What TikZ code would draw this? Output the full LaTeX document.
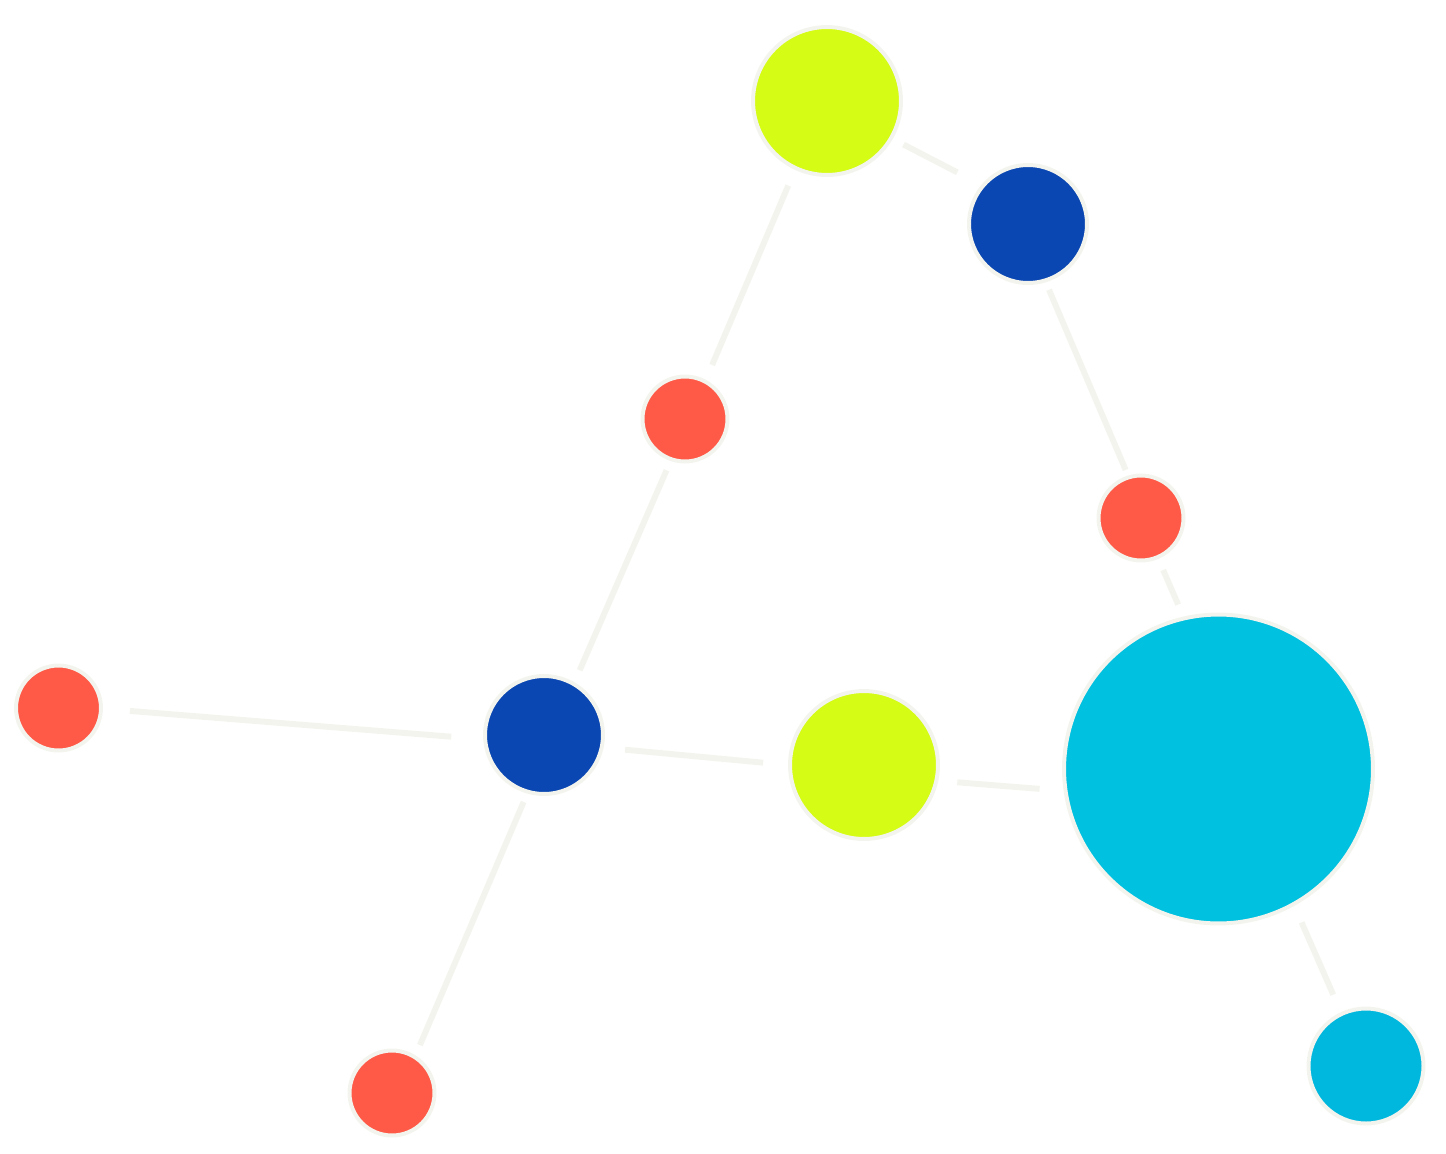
\documentclass[tikz,border=0pt]{standalone}
\usepackage{tikz}
\usepackage[svgnames]{xcolor}

\definecolor{lime}{HTML}{D4FC14}
\definecolor{navy}{HTML}{0A47B2}
\definecolor{coral}{HTML}{FF5A47}
\definecolor{aqua}{HTML}{00C1DF}
\definecolor{aquadark}{HTML}{00B7DE}
\definecolor{mist}{HTML}{F4F4EF}

\begin{document}
\begin{tikzpicture}[
            x=.02cm, y=-.02cm,
            dot/.style={circle, inner sep=0pt, draw=mist, line width=.08cm},
            small/.style={dot, minimum size=1.7cm, fill=coral},
            mid/.style={dot, minimum size=2.36cm, fill=navy},
            big/.style={dot, minimum size=2.96cm, fill=lime},
            link/.style={draw=mist, line width=.12cm},
        ]
            \useasboundingbox (0, 0) rectangle (1446, 1153);

            %% the nodes, placed where the picture has them
            \node[big] (limeTop) at (827, 101) {};
            \node[mid] (navyTop) at (1028, 224) {};
            \node[small] (coralUp) at (685, 419) {};
            \node[small] (coralRight) at (1141, 518) {};
            \node[dot, minimum size=6.18cm, fill=aqua] (hub) at (1218.5, 769) {};
            \node[dot, minimum size=2.3cm, fill=aquadark] (aquaLow) at (1366, 1066) {};
            \node[mid] (navyMid) at (544, 735) {};
            \node[big] (limeMid) at (864, 765) {};
            \node[small] (coralLeft) at (58.5, 708) {};
            \node[small] (coralLow) at (392, 1093) {};

            %% links leave each circle at an angle and stop short of it
            \foreach \a/\p/\b/\q/\s/\t in {
                limeTop/-115.4/coralUp/62.1/.34cm/.32cm,
                limeTop/-30.5/navyTop/140.6/.24cm/.54cm,
                navyTop/-73.9/coralRight/107.7/.16cm/.12cm,
                coralRight/-67.1/hub/103.1/.24cm/.26cm,
                coralUp/-109.7/navyMid/60.7/.2cm/.26cm,
                coralLeft/-1/navyMid/184.3/.54cm/.64cm,
                navyMid/-12.3/limeMid/180/.43cm/.5cm,
                limeMid/-12.5/hub/188.5/.38cm/.48cm,
                navyMid/-106.6/coralLow/58/.18cm/.22cm,
                hub/-61.7/aquaLow/115.1/.36cm/.38cm}{
                \draw[link, shorten <=\s, shorten >=\t] (\a.\p) -- (\b.\q);
            }
        \end{tikzpicture}
\end{document}
